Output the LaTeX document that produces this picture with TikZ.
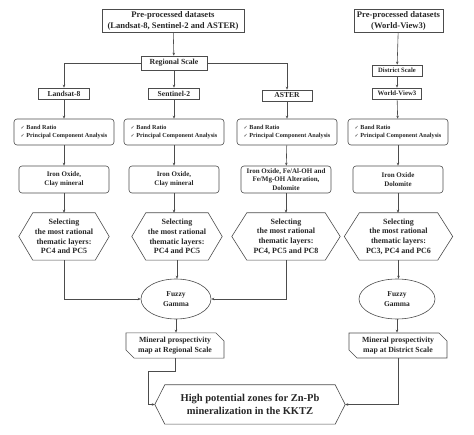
\documentclass[tikz,border=0pt]{standalone}
\usepackage{fontspec}
\setmainfont{Liberation Serif}
\newfontfamily\chkfont{DejaVu Sans}
\usetikzlibrary{arrows.meta,shapes.geometric,shapes.misc}

\begin{document}
\begin{tikzpicture}[x=1pt, y=-1pt,
		every node/.style={text=black!85, inner sep=0pt, align=center},
		box/.style={draw=black!70, line width=0.6pt},
		rbox/.style={box, rounded corners=3pt},
		hexa/.style={minimum width=#1, minimum height=47, font=\bfseries\fontsize{8}{9.7}\selectfont},
		mapbox/.style={box, chamfered rectangle, chamfered rectangle corners={north east,south west},
			chamfered rectangle xsep=4pt, chamfered rectangle ysep=4pt,
			minimum width=98, minimum height=23, font=\bfseries\fontsize{7.8}{10}\selectfont},
		arr/.style={draw=black!70, line width=0.6pt, -{Stealth[length=3pt,width=2.5pt]}}]
		\useasboundingbox (0,0) rectangle (474,435);
		%数据
		\node[box, minimum width=142, minimum height=23, font=\bfseries\fontsize{8.6}{11}\selectfont] (pre1) at(173, 20.5) {Pre-processed datasets\\(Landsat-8, Sentinel-2 and ASTER)};
		\node[box, minimum width=89, minimum height=23, font=\bfseries\fontsize{8.6}{11}\selectfont] (pre2) at(398.5, 20.5) {Pre-processed datasets\\(World-View3)};
		\node[box, minimum width=66, minimum height=14, font=\bfseries\fontsize{7.8}{9}\selectfont] (regional) at(174, 63) {Regional Scale};
		\node[box, minimum width=50, minimum height=11, font=\bfseries\fontsize{6.6}{9}\selectfont] (district) at(397, 70.5) {District Scale};
		\node[box, minimum width=51, minimum height=11, font=\bfseries\fontsize{7.6}{9}\selectfont] (landsat) at(64, 93.5) {Landsat-8};
		\node[box, minimum width=51, minimum height=11, font=\bfseries\fontsize{7.6}{9}\selectfont] (sentinel) at(174, 93.5) {Sentinel-2};
		\node[box, minimum width=50, minimum height=11, font=\bfseries\fontsize{7.6}{9}\selectfont] (aster) at(287, 95.5) {ASTER};
		\node[box, minimum width=49, minimum height=11, font=\bfseries\fontsize{6.8}{9}\selectfont] (wv) at(397, 93.5) {World-View3};
		%方法
		\foreach \n/\x in {band1/64, band2/174, band3/287, band4/398}
			\node[rbox, minimum width=100, minimum height=26, align=left, font=\bfseries\fontsize{6.2}{8}\selectfont] (\n) at(\x, 132)
				{{\chkfont\fontsize{5}{8}\selectfont ✓} Band Ratio\\{\chkfont\fontsize{5}{8}\selectfont ✓} Principal Component Analysis};
		\node[rbox, minimum width=90, minimum height=27, font=\bfseries\fontsize{7}{9}\selectfont] (iron1) at(64, 179.5) {Iron Oxide,\\Clay mineral};
		\node[rbox, minimum width=90, minimum height=27, font=\bfseries\fontsize{7}{9}\selectfont] (iron2) at(174, 179.5) {Iron Oxide,\\Clay mineral};
		\node[rbox, minimum width=90, minimum height=27, font=\bfseries\fontsize{7}{8.3}\selectfont] (iron3) at(286, 179.5) {Iron Oxide, Fe/Al-OH and\\Fe/Mg-OH Alteration,\\Dolomite};
		\node[rbox, minimum width=90, minimum height=27, font=\bfseries\fontsize{7}{9}\selectfont] (iron4) at(398, 179.5) {Iron Oxide\\Dolomite};
		%图层
		\node[hexa=90] (hex1) at(64, 236.5) {Selecting\\the most rational\\thematic layers:\\PC4 and PC5};
		\node[hexa=90] (hex2) at(177, 236.5) {Selecting\\the most rational\\thematic layers:\\PC4 and PC5};
		\node[hexa=108] (hex3) at(286, 236.5) {Selecting\\the most rational\\thematic layers:\\PC4, PC5 and PC8};
		\node[hexa=108] (hex4) at(398.5, 236.5) {Selecting\\the most rational\\thematic layers:\\PC3, PC4 and PC6};
		\foreach \n/\d in {hex1/14, hex2/14, hex3/15, hex4/15}
			\draw[box] (\n.west) -- ([xshift=\d pt]\n.north west) -- ([xshift=-\d pt]\n.north east) -- (\n.east)
				-- ([xshift=-\d pt]\n.south east) -- ([xshift=\d pt]\n.south west) -- cycle;
		%模糊
		\node[box, ellipse, minimum width=70, minimum height=40, font=\bfseries\fontsize{7.5}{10}\selectfont] (fuzzy1) at(176, 299) {Fuzzy\\Gamma};
		\node[box, ellipse, minimum width=76, minimum height=40, font=\bfseries\fontsize{7.5}{10}\selectfont] (fuzzy2) at(397, 299) {Fuzzy\\Gamma};
		\node[mapbox] (map1) at(175, 345.5) {Mineral prospectivity\\map at Regional Scale};
		\node[mapbox] (map2) at(398, 345.5) {Mineral prospectivity\\map at District Scale};
		\node[minimum width=190, minimum height=39, font=\bfseries\fontsize{10.5}{13}\selectfont] (zone) at(250, 404.5) {High potential zones for Zn-Pb\\mineralization in the KKTZ};
		\draw[box] (zone.west) -- ([xshift=10pt]zone.north west) -- ([xshift=-10pt]zone.north east) -- (zone.east)
			-- ([xshift=-10pt]zone.south east) -- ([xshift=10pt]zone.south west) -- cycle;
		%连线
		\draw[arr] (pre1) -- (regional);
		\draw[arr] (regional.west) -| (landsat.north);
		\draw[arr] (regional) -- (sentinel);
		\draw[arr] (regional.east) -| (aster.north);
		\draw[arr] (pre2) -- (district);
		\draw[arr] (district) -- (wv);
		\foreach \a/\b in {landsat/band1, sentinel/band2, aster/band3, wv/band4, band1/iron1, band2/iron2, band3/iron3, band4/iron4}
			\draw[arr] (\a) -- (\b);
		\draw[arr] (iron1.south) -- (iron1.south |- hex1.north);
		\draw[arr] (iron2.south) -- (iron2.south |- hex2.north);
		\draw[arr] (iron3.south) -- (iron3.south |- hex3.north);
		\draw[arr] (iron4.south) -- (iron4.south |- hex4.north);
		\draw[arr] (hex1.south) |- (fuzzy1.west);
		\draw[arr] (hex2.south) -- (hex2.south |- fuzzy1.north);
		\draw[arr] (hex3.south) |- (fuzzy1.east);
		\draw[arr] (hex4.south) -- (hex4.south |- fuzzy2.north);
		\draw[arr] (fuzzy1.south) -- (fuzzy1.south |- map1.north);
		\draw[arr] (fuzzy2.south) -- (fuzzy2.south |- map2.north);
		\coordinate (bend) at(148, 371);
		\draw[arr] (map1.south) |- (bend) |- (zone.west);
		\draw[arr] (map2.south) |- (zone.east);
	\end{tikzpicture}
\end{document}
